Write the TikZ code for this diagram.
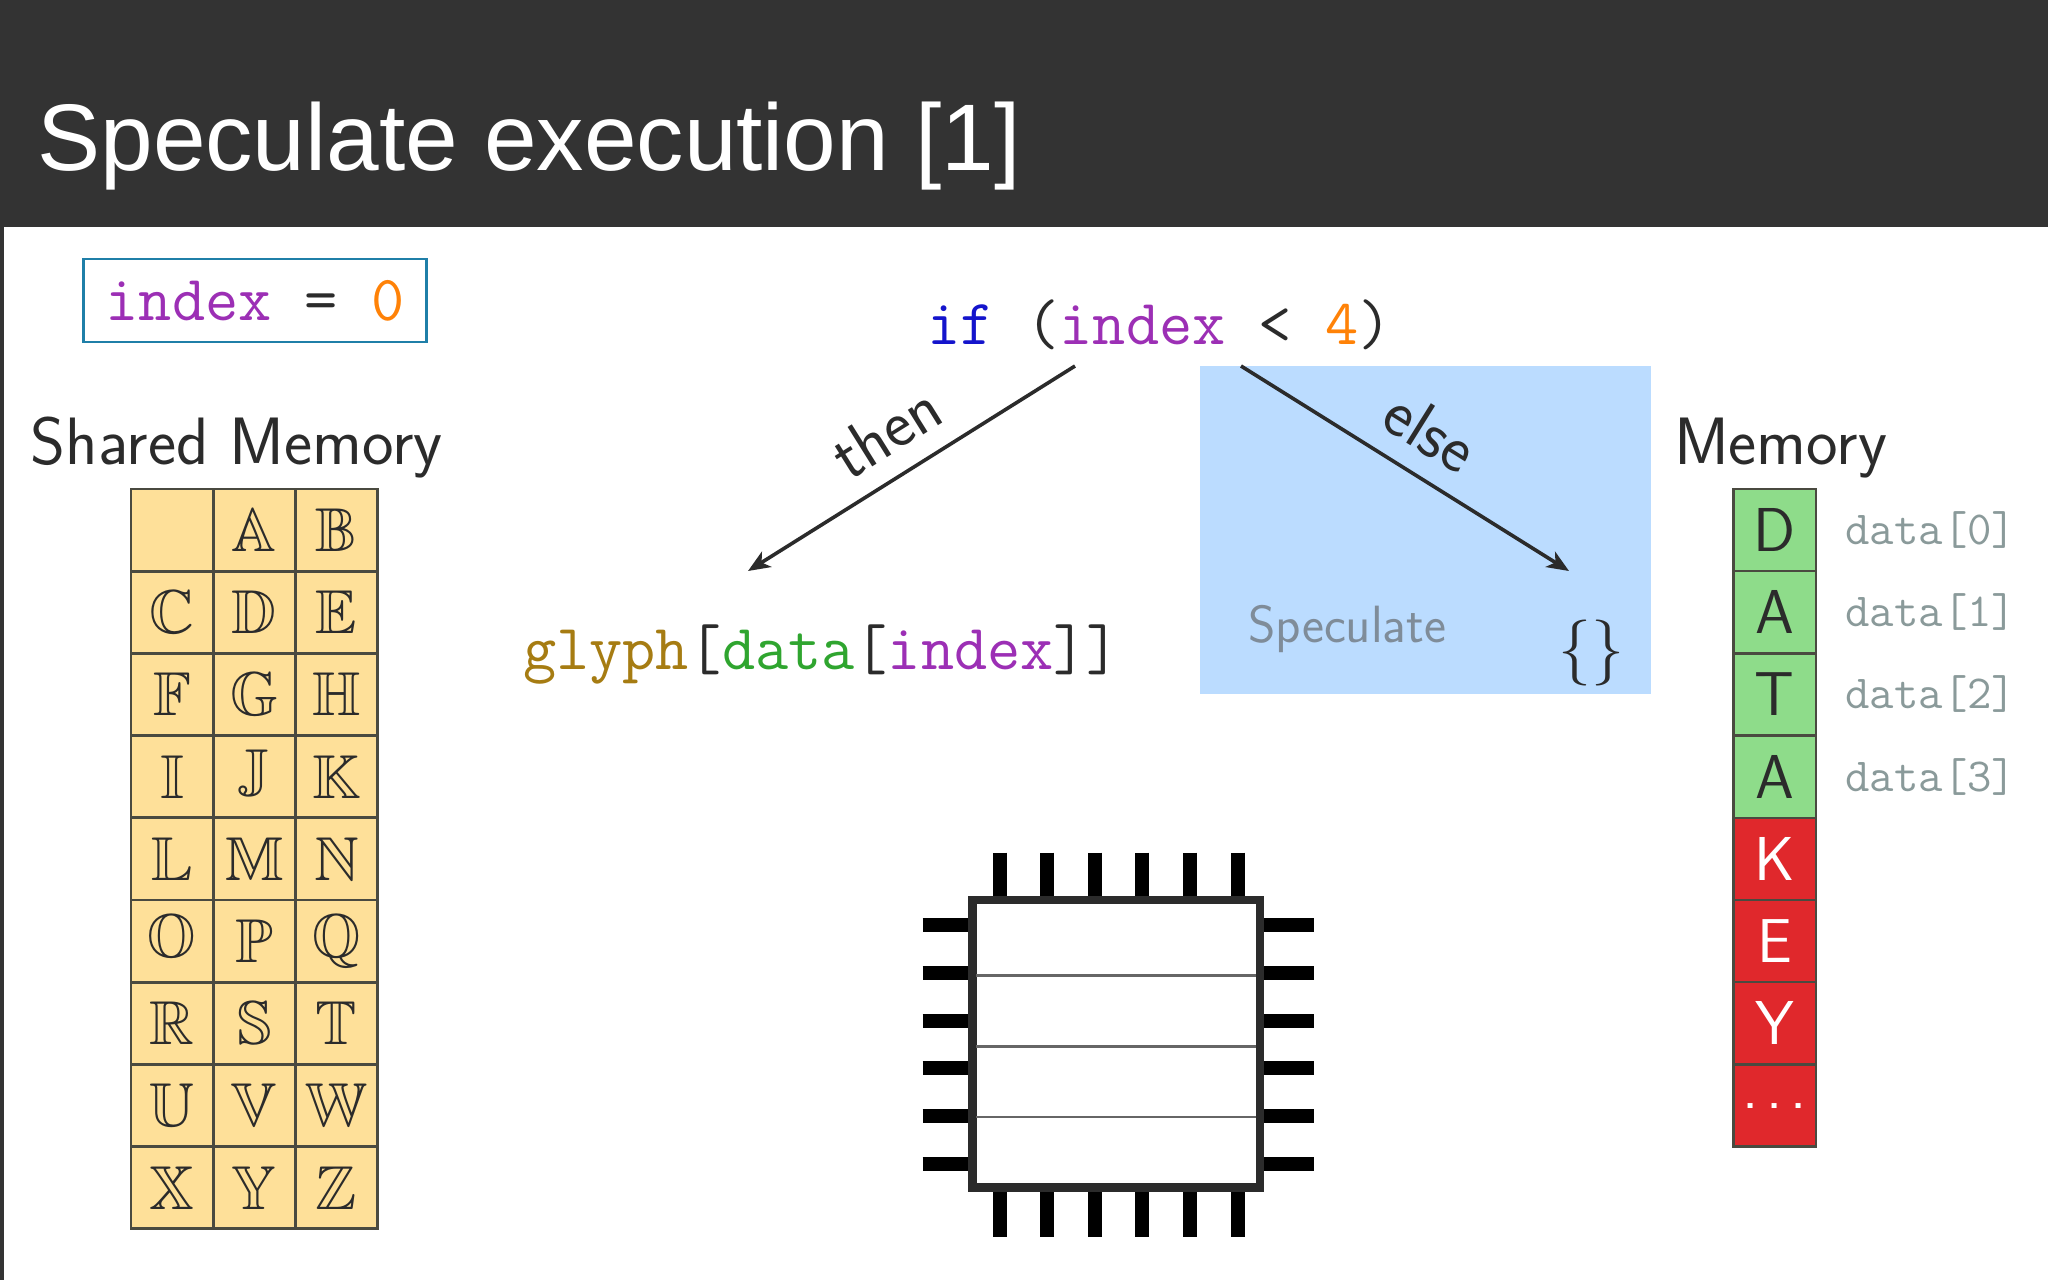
\documentclass[tikz,border=0pt]{standalone}
\usepackage{fontspec}
\setmainfont{Liberation Sans}
\setsansfont{Latin Modern Sans}
\usetikzlibrary{arrows.meta}
\font\bbfont=msbm10 at 31pt
\definecolor{hdr}{HTML}{333333}
\definecolor{ink}{HTML}{2B2B2B}
\definecolor{cellline}{HTML}{4A4A40}
\definecolor{cellfill}{HTML}{FEE099}
\definecolor{okfill}{HTML}{8EDC8A}
\definecolor{badfill}{HTML}{E0282C}
\definecolor{specfill}{HTML}{BBDCFF}
\definecolor{boxline}{HTML}{1F7FA8}
\definecolor{vpurple}{HTML}{9C2FB5}
\definecolor{vblue}{HTML}{1414CC}
\definecolor{vorange}{HTML}{FF8207}
\definecolor{vgold}{HTML}{A67C12}
\definecolor{vgreen}{HTML}{2FA52F}
\definecolor{gray1}{HTML}{8A9A9A}
\definecolor{gray2}{HTML}{7F8C99}
\tikzset{
  txt/.style={anchor=base west,inner sep=0pt,outer sep=0pt,text=ink},
  code/.style={txt,font=\fontsize{32.2}{32.2}\ttfamily\selectfont},
  sans/.style={txt,font=\fontsize{33.5}{33.5}\sffamily\selectfont},
  bbcell/.style={draw=cellline,line width=1.4pt,fill=cellfill,minimum width=41.1pt,minimum height=41.1pt,inner sep=0pt,text=ink,font=\bbfont},
  memcell/.style={draw=cellline,line width=1.2pt,minimum width=41.2pt,minimum height=41.1pt,inner sep=0pt,font=\fontsize{31}{31}\sffamily\selectfont},
  okcell/.style={memcell,fill=okfill,text=ink},
  badcell/.style={memcell,fill=badfill,text=white},
  datalabel/.style={anchor=west,inner sep=0pt,text=gray1,font=\fontsize{23.7}{23.7}\ttfamily\selectfont},
  edge/.style={draw=ink,line width=1.8pt,-{Stealth[length=11pt,width=9pt,inset=3pt]}},
  edgelabel/.style={inner sep=0pt,text=ink,font=\fontsize{33.5}{33.5}\sffamily\selectfont},
  pin/.style={line width=7pt,draw=black},
  chipbody/.style={draw=ink,line width=4.4pt,fill=white},
  chipline/.style={draw=black!60,line width=1.4pt}
}
\begin{document}
\begin{tikzpicture}[x=0.5pt,y=-0.5pt]
\useasboundingbox (0,0) rectangle (2048,1280);
\fill[white] (0,0) rectangle (2048,1280);
\fill[hdr] (0,0) rectangle (3.5,1280);
\fill[hdr] (0,0) rectangle (2048,227);
\node[anchor=base west,inner sep=0pt,text=white,font=\fontsize{47.3}{47.3}\selectfont] (title) at (37,170) {Speculate execution [1]};
% index box
\node[draw=boxline,line width=1.2pt,fill=white,minimum width=171.5pt,minimum height=41.5pt,inner sep=0pt,font=\fontsize{32.2}{32.2}\ttfamily\selectfont] (idx) at (255,300.5) {\textcolor{vpurple}{index}\ \textcolor{ink}{=}\ \textcolor{vorange}{0}};
% shared memory
\node[sans] (sharedlabel) at (31,464) {Shared Memory};
\foreach \ltr [count=\n from 0] in {{},A,B,C,D,E,F,G,H,I,J,K,L,M,N,O,P,Q,R,S,T,U,V,W,X,Y,Z}{
  \pgfmathtruncatemacro{\cc}{mod(\n,3)}
  \pgfmathtruncatemacro{\rr}{div(\n,3)}
  \node[bbcell] (bb\n) at ({131+82.2*(\cc+0.5)},{489+82.2*(\rr+0.5)}) {\ltr};
}
% condition
\node[code] (cond) at (927,344) {\textcolor{vblue}{if} (\textcolor{vpurple}{index} < \textcolor{vorange}{4})};
% speculate area
\fill[specfill] (1200,366) rectangle (1651,694);
\node[code] (glyph) at (523,669) {\textcolor{vgold}{glyph}[\textcolor{vgreen}{data}[\textcolor{vpurple}{index}]]};
\node[txt,text=gray2,font=\fontsize{26.2}{26.2}\sffamily\selectfont] (spec) at (1248,642) {Speculate};
\node[inner sep=0pt,text=ink,font=\fontsize{33}{33}\sffamily\selectfont] (braces) at (1591,653) {\{\}};
\coordinate (thenstart) at (1075,366);
\coordinate (thenend) at (748,571);
\coordinate (elsestart) at (1241,366);
\coordinate (elseend) at (1569,571);
\draw[edge] (thenstart) -- (thenend);
\draw[edge] (elsestart) -- (elseend);
\node[edgelabel,rotate=32] (thenlbl) at (886,431) {then};
\node[edgelabel,rotate=-32] (elselbl) at (1431,431) {else};
% memory
\node[sans] (memlabel) at (1674,464) {Memory};
\foreach \ltr [count=\n from 0] in {D,A,T,A}{
  \node[okcell] (m\n) at (1774.5,{489+82.2*(\n+0.5)}) {\ltr};
  \node[datalabel] (d\n) at (1845,{489+82.2*(\n+0.5)}) {data[\n]};
}
\foreach \ltr [count=\n from 4] in {K,E,Y}{
  \node[badcell] (m\n) at (1774.5,{489+82.2*(\n+0.5)}) {\ltr};
}
\node[badcell] (m7) at (1774.5,{489+82.2*7.5}) {.\hspace{4pt}.\hspace{4pt}.};
% chip
\foreach \p in {999.7,1047.3,1095,1142.3,1190,1237.7}{
  \draw[pin] (\p,852.7) -- (\p,900);
  \draw[pin] (\p,1190) -- (\p,1237);
}
\foreach \p in {925.3,973,1020.7,1068.3,1116,1163.7}{
  \draw[pin] (922.7,\p) -- (970,\p);
  \draw[pin] (1262,\p) -- (1313.7,\p);
}
\draw[chipbody] (972.5,900) rectangle (1260,1187.5);
\foreach \p in {975.7,1046.7,1117}{
  \draw[chipline] (976,\p) -- (1256,\p);
}
\end{tikzpicture}
\end{document}
